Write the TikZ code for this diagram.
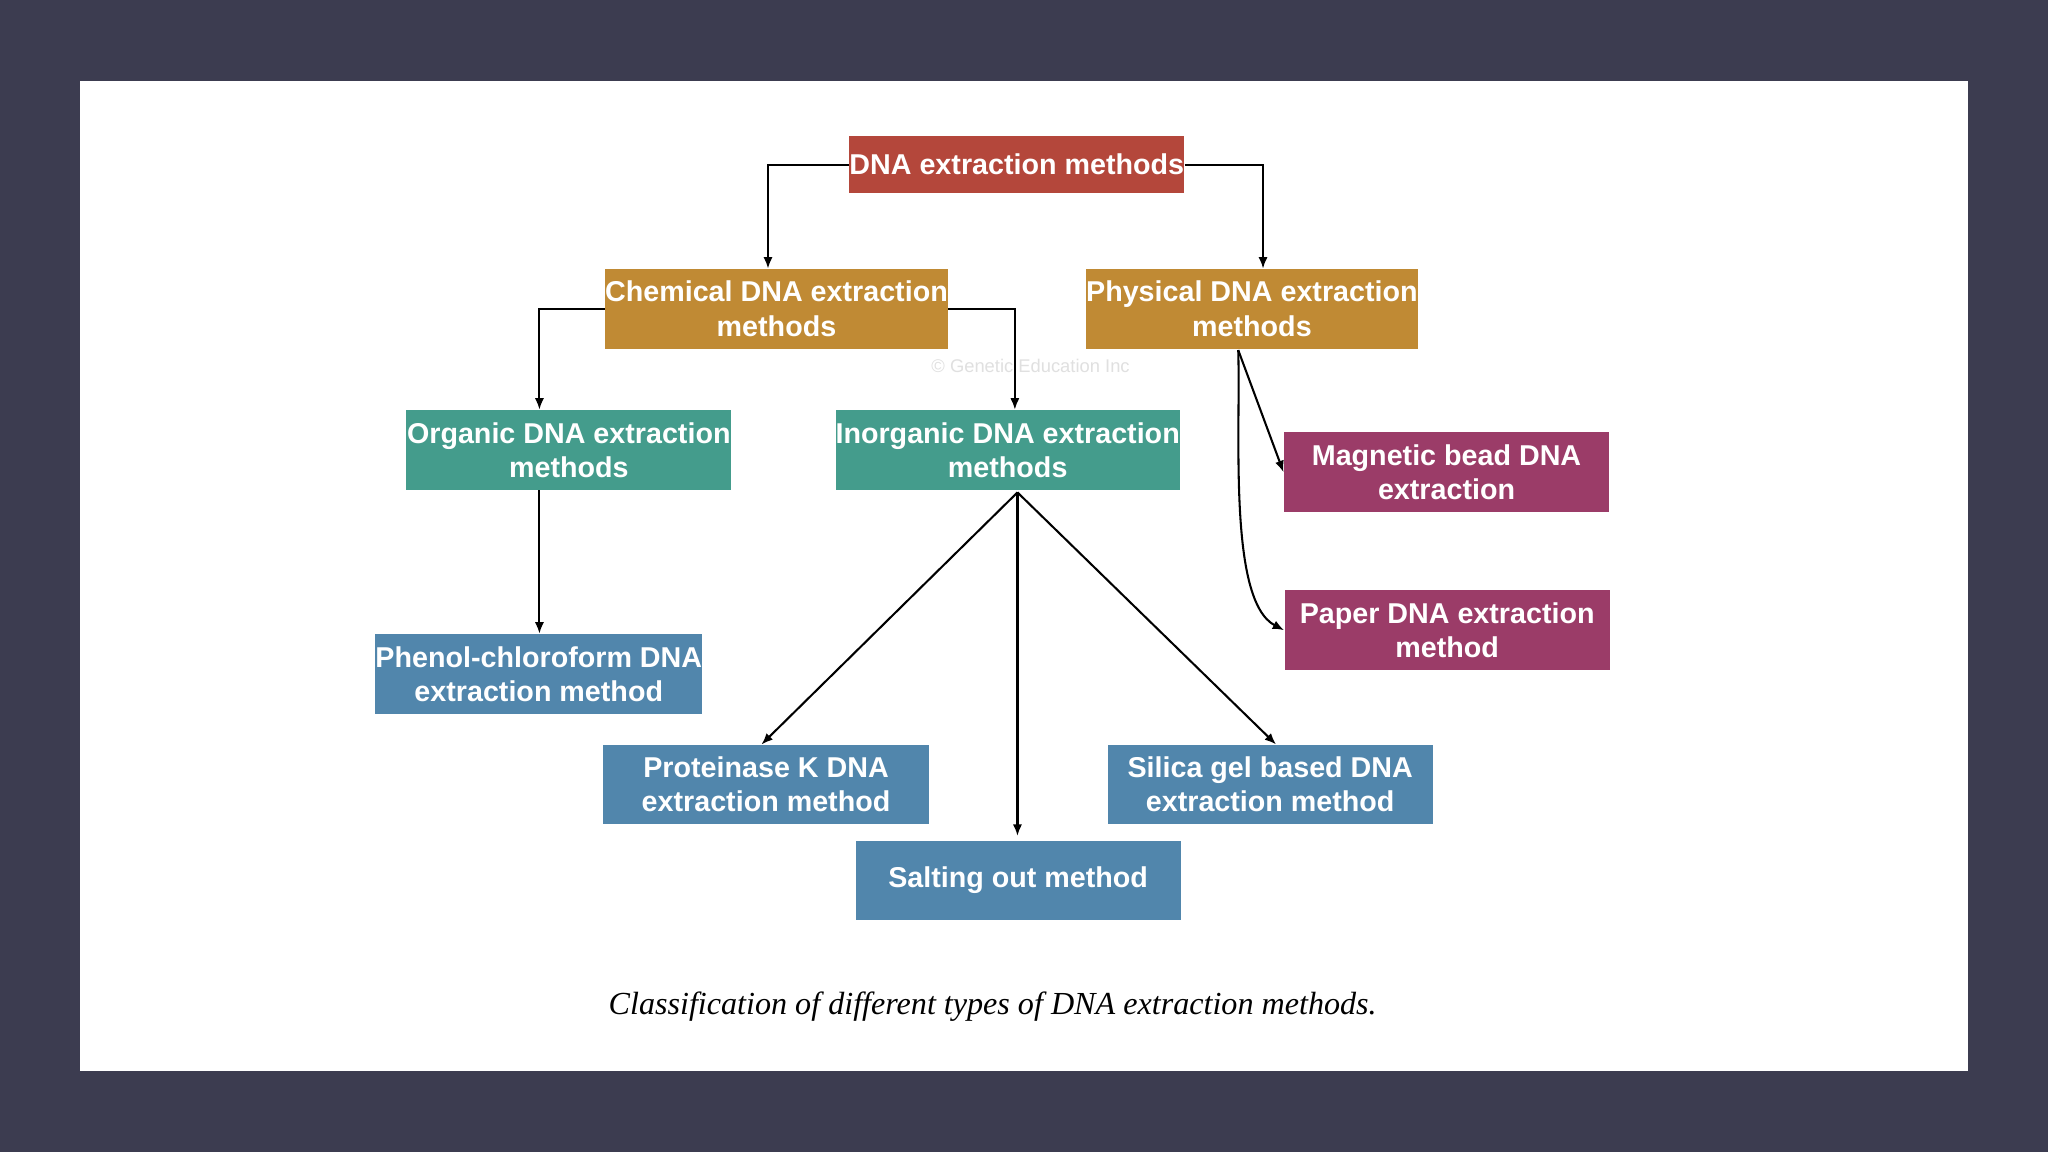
\documentclass[tikz,border=0pt]{standalone}
\usepackage{fontspec}
\setmainfont{Liberation Sans}
\newfontfamily\capfont{Liberation Serif}
\usetikzlibrary{arrows.meta}
\definecolor{bgdark}{HTML}{3C3C50}
\definecolor{cred}{HTML}{B4473B}
\definecolor{cmust}{HTML}{C08A34}
\definecolor{cteal}{HTML}{449C8C}
\definecolor{cmag}{HTML}{9B3C68}
\definecolor{cblue}{HTML}{5186AC}
\begin{document}
\begin{tikzpicture}[x=0.02cm,y=-0.02cm,
  box/.style={rectangle,minimum width=4.98cm,minimum height=1.22cm,inner sep=0pt,text=white,align=center,font=\fontsize{12.5}{15}\selectfont\bfseries},
  arr/.style={draw=black,line width=0.9pt,-{Latex[length=5pt,width=4pt]}}]
\fill[bgdark] (0,0) rectangle (1568,882);
\useasboundingbox (0,0) rectangle (1568,882);
\fill[white] (61,62) rectangle (1507,820);
\node[text=black!12,font=\fontsize{8}{9}\selectfont] (wm) at (789,280) {\textcopyright{} Genetic Education Inc};
\node[box,fill=cred,minimum height=0.88cm] (root) at (778.5,126) {DNA extraction methods};
\node[box,fill=cmust] (chem) at (594.5,236.5) {Chemical DNA extraction\\methods};
\node[box,fill=cmust] (phys) at (958.5,236.5) {Physical DNA extraction\\methods};
\node[box,fill=cteal] (org) at (435.5,344.5) {Organic DNA extraction\\methods};
\node[box,fill=cteal] (inorg) at (771.5,344.5) {Inorganic DNA extraction\\methods};
\node[box,fill=cmag] (mag) at (1107.5,361.5) {Magnetic bead DNA\\extraction};
\node[box,fill=cmag] (paper) at (1108,482.5) {Paper DNA extraction\\method};
\node[box,fill=cblue] (phenol) at (412.5,516) {Phenol-chloroform DNA\\extraction method};
\node[box,fill=cblue] (prot) at (586.5,600.5) {Proteinase K DNA\\extraction method};
\node[box,fill=cblue] (silica) at (972.5,600.5) {Silica gel based DNA\\extraction method};
\node[box,fill=cblue] (salt) at (779.5,674) {Salting out method};
\node[font=\capfont\itshape\fontsize{14}{16}\selectfont] (cap) at (760,771) {Classification of different types of DNA extraction methods.};
\coordinate (ip) at (779,377);
\coordinate (pp) at (948,268);
\draw[arr] (root.west) -| (chem.north -| 588,0);
\draw[arr] (root.east) -| (phys.north -| 967,0);
\draw[arr] (chem.west) -| (org.north -| 413,0);
\draw[arr] (chem.east) -| (inorg.north -| 777,0);
\draw[arr] (org.south -| 413,0) -- (phenol.north -| 413,0);
\draw[arr] (ip) -- (583,570);
\draw[arr] (ip) -- (779,640);
\draw[arr] (ip) -- (977,570);
\draw[arr] (pp) -- (mag.west);
\draw[arr] (pp) .. controls (950,330) and (940,460) .. (paper.west);
\end{tikzpicture}
\end{document}
